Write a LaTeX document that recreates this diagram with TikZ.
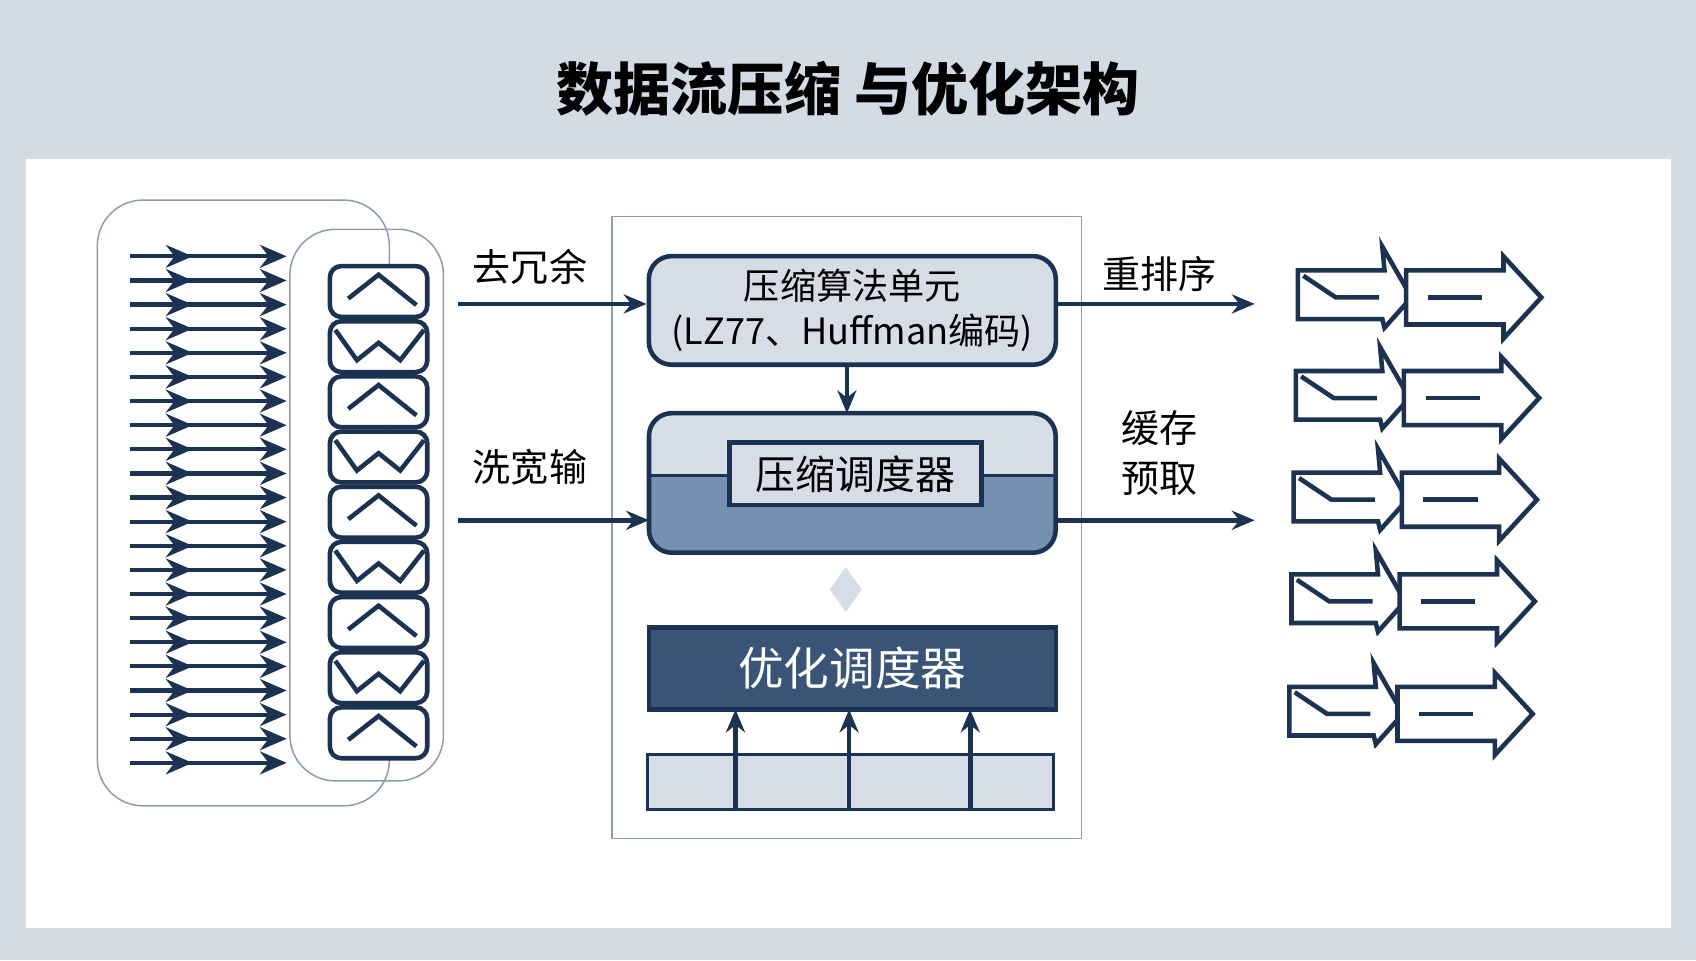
\documentclass[tikz,border=0pt]{standalone}
\usepackage{fontspec}
\setmainfont{Noto Sans CJK SC}
\usetikzlibrary{shapes.geometric, arrows.meta}
\definecolor{mbg}{RGB}{211,220,229}
\definecolor{mnavy}{RGB}{28,50,82}
\definecolor{mlight}{RGB}{214,221,230}
\definecolor{mmid}{RGB}{117,144,176}
\definecolor{mdark}{RGB}{58,84,120}
\definecolor{mframe}{RGB}{140,158,180}
\begin{document}
\begin{tikzpicture}[x=0.01cm, y=-0.01cm,
    module/.style={draw=mnavy, very thick, rounded corners=6pt, fill=mlight},
    lbl/.style={font=\fontsize{9}{11}\selectfont, text=black},
    arrow/.style={-{Stealth[length=6pt, width=5pt]}, very thick, draw=mnavy},
    sarrow/.style={-{Stealth[length=7pt, width=6pt]}, line width=1.1pt, draw=mnavy},
    frame/.style={draw=mframe, thin, rounded corners=12pt},
    icon/.style={draw=mnavy, very thick, line join=miter, fill=white},
]
\fill[mbg] (0,0) rectangle (1568,888);
\fill[white] (24,147) rectangle (1545,858);
\node[font=\fontsize{15}{17}\selectfont\bfseries] (title) at (784,82) {数据流压缩 与优化架构};

% input streams
\draw[frame] (90,185) rectangle (360,745);
\draw[frame] (268,212) rectangle (410,722);
\foreach \i in {0,...,21}{
  \draw[sarrow] (120,237+22.3*\i) -- (178,237+22.3*\i);
  \draw[sarrow] (170,237+22.3*\i) -- (265,237+22.3*\i);
}
\foreach \i in {0,...,8}{
  \pgfmathsetmacro\yy{246+51*\i}
  \draw[icon, rounded corners=3pt] (305,\yy) rectangle (395,\yy+47);
  \ifodd\i
    \draw[mnavy, very thick] (310,\yy+8) -- (330,\yy+36) -- (350,\yy+20) -- (370,\yy+36) -- (392,\yy+8);
  \else
    \draw[mnavy, very thick] (322,\yy+30) -- (350,\yy+8) -- (385,\yy+36);
  \fi
}

% core
\draw[mframe, thin] (566,200) rectangle (1000,775);
\node[module, minimum width=3.76cm, minimum height=0.99cm, inner xsep=0pt, align=center, lbl, font=\fontsize{9.5}{12}\selectfont] (algo) at (788,287) {压缩算法单元\\(LZ77、Huffman编码)};
\begin{scope}
  \clip[rounded corners=6pt] (600,511) -- (600,382) -- (976,382) -- (976,511) -- cycle;
  \fill[mmid] (600,440) rectangle (976,511);
  \fill[mlight] (600,382) rectangle (976,440);
\end{scope}
\draw[mnavy, very thick, rounded corners=6pt] (600,511) -- (600,382) -- (976,382) -- (976,511) -- cycle;
\draw[mnavy, thick] (600,440) -- (976,440);
\node[draw=mnavy, very thick, fill=mlight, minimum width=2.33cm, minimum height=0.55cm, font=\fontsize{10.5}{13}\selectfont] (sched) at (791,438) {压缩调度器};
\coordinate (schedtop) at (783,382);
\node[diamond, fill=mlight, minimum width=0.3cm, minimum height=0.42cm, inner sep=0pt] (gem) at (782,545) {};
\node[draw=mnavy, very thick, fill=mdark, text=white, minimum width=3.76cm, minimum height=0.76cm, font=\fontsize{12}{14}\selectfont] (opt) at (788,618) {优化调度器};
\node[draw=mnavy, thick, fill=mlight, minimum width=3.75cm, minimum height=0.5cm] (base) at (786,723) {};
\draw[arrow] (algo.south -| schedtop) -- (schedtop);
\foreach \x in {680,785,897}
  \draw[arrow] (\x,748) -- (\x,656);

% inputs to core
\coordinate (in1) at (423,281);
\coordinate (in2) at (423,481);
\draw[arrow] (in1) -- (algo.west |- in1);
\draw[arrow] (in2) -- (600,481);
\node[lbl, font=\fontsize{10}{12}\selectfont] (dedup) at (490,247) {去冗余};
\node[lbl, font=\fontsize{10}{12}\selectfont] (bw) at (490,432) {洗宽输};

% outputs
\coordinate (out1) at (1160,281);
\coordinate (out2) at (1160,481);
\draw[arrow] (algo.east |- out1) -- (out1);
\draw[arrow] (976,481) -- (out2);
\node[lbl, font=\fontsize{10}{12}\selectfont] (reorder) at (1072,253) {重排序};
\node[lbl, align=center, font=\fontsize{10}{13}\selectfont] (cache) at (1072,419) {缓存\\预取};

\foreach \y/\dx in {275/0, 368/-2, 462/-4, 556/-6, 660/-8}{
  \begin{scope}[xshift=\dx*0.01cm]
    \draw[icon] (1200,\y-25) -- (1280,\y-25) -- (1278,\y-47) -- (1305,\y) -- (1280,\y+28) -- (1278,\y+20) -- (1200,\y+20) -- cycle;
    \draw[mnavy, very thick] (1205,\y-20) -- (1235,\y) -- (1275,\y);
    \draw[icon] (1300,\y-25) -- (1390,\y-25) -- (1390,\y-38) -- (1425,\y) -- (1390,\y+38) -- (1390,\y+25) -- (1300,\y+25) -- cycle;
    \draw[mnavy, very thick] (1320,\y) -- (1370,\y);
  \end{scope}
}
\end{tikzpicture}
\end{document}
